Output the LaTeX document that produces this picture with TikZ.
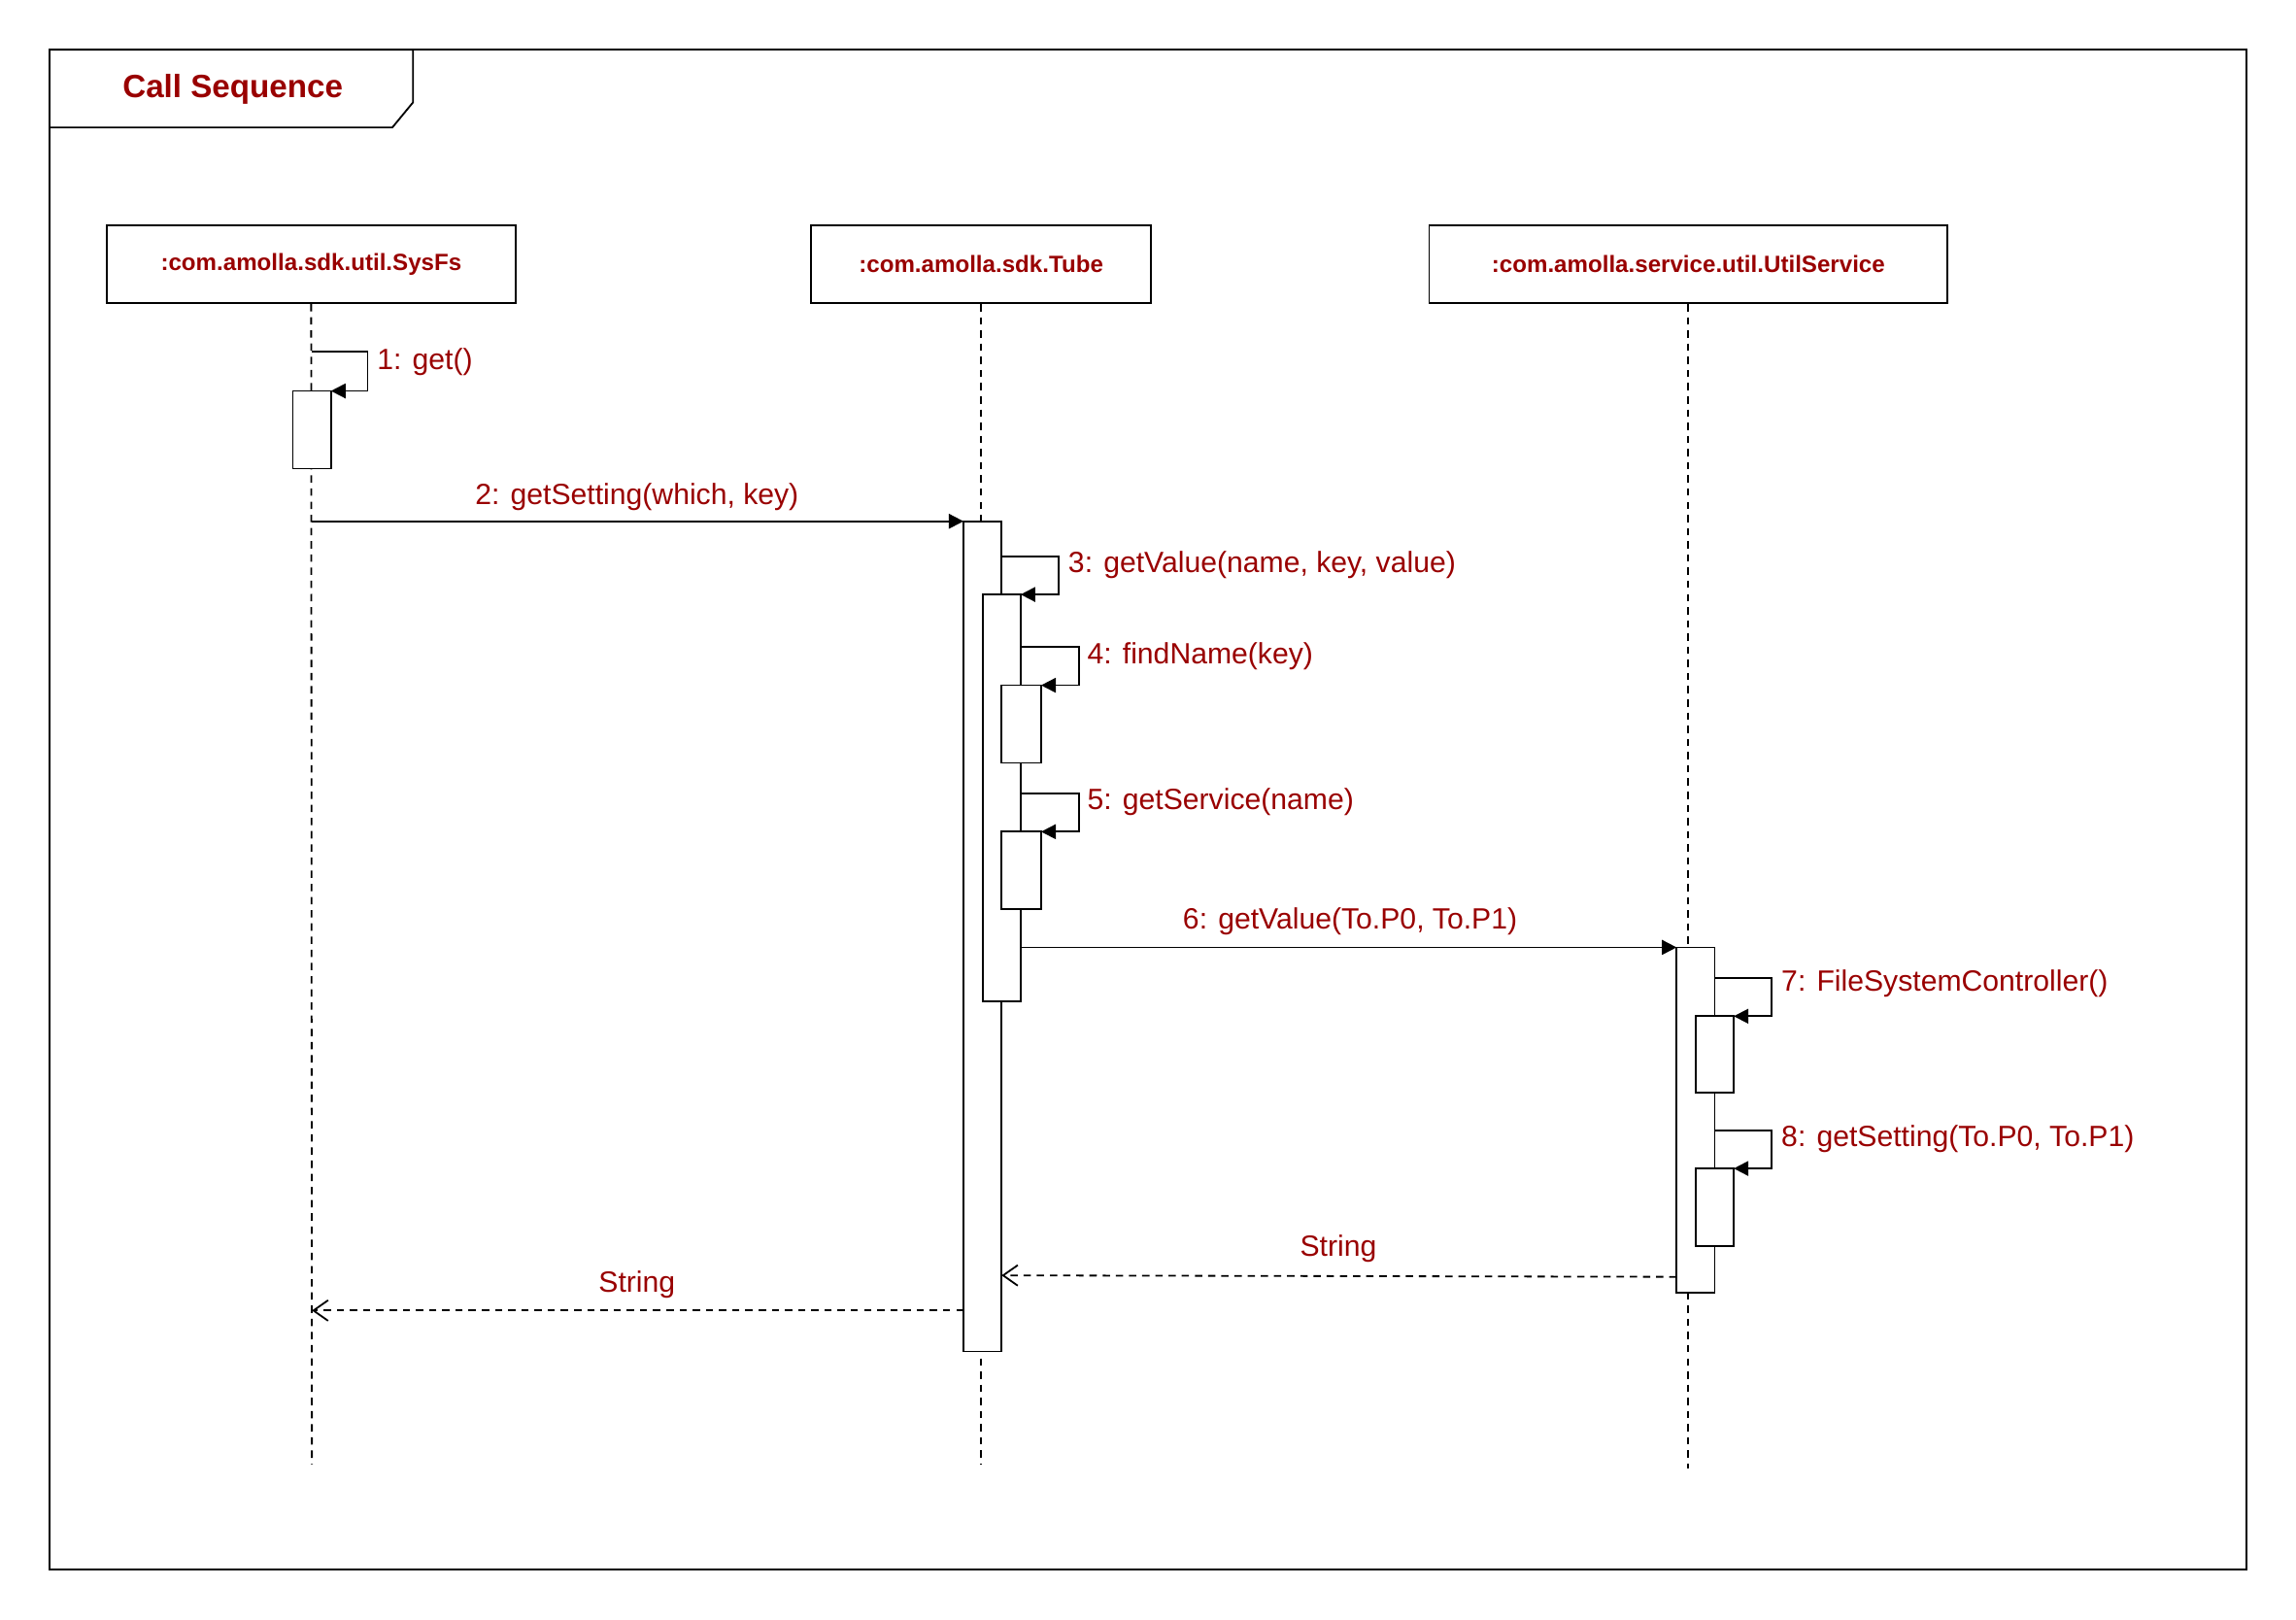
\documentclass[tikz,border=0pt]{standalone}
\usepackage{fontspec}
\setmainfont{Liberation Sans}
\usetikzlibrary{arrows.meta}
\definecolor{dred}{HTML}{990000}
\begin{document}
\begin{tikzpicture}[x=0.5pt,y=-0.5pt,line width=0.6pt,
 head/.style={draw,fill=white,minimum width=0,inner sep=0,font=\fontsize{8}{9}\selectfont\bfseries,text=dred},
 act/.style={draw,fill=white},
 life/.style={dashed,dash pattern=on 2.5pt off 2pt},
 call/.style={-{Triangle[length=5pt,width=5pt]}},
 ret/.style={dashed,dash pattern=on 2.5pt off 2pt,-{Straight Barb[length=5pt,width=7pt]}},
 lbl/.style={font=\fontsize{10}{12}\selectfont,text=dred,inner sep=1pt}]
\useasboundingbox (0,0) rectangle (1568,1106);
\draw (34,34) rectangle (1534,1072);
\draw (34,34) -- (282,34) -- (282,70) -- (268,87) -- (34,87);
\node[font=\fontsize{11}{13}\selectfont\bfseries,text=dred] (title) at (159,61) {Call Sequence};
% lifelines
\node[head,minimum width=139.5pt,minimum height=26.5pt] (L1) at (212.5,180.5) {:com.amolla.sdk.util.SysFs};
\node[head,minimum width=116pt,minimum height=26.5pt] (L2) at (670,180.5) {:com.amolla.sdk.Tube};
\node[head,minimum width=177pt,minimum height=26.5pt] (L3) at (1153,180.5) {:com.amolla.service.util.UtilService};
\coordinate (E1) at (213,1000); \coordinate (E2) at (670,1000); \coordinate (E3) at (1153,1003);
\draw[life] (L1.south) -- (E1);
\draw[life] (L2.south) -- (E2);
\draw[life] (L3.south) -- (E3);
% activations
\draw[act] (200,267) rectangle (226,320);
\draw[act] (658,356) rectangle (684,923);
\draw[act] (671,406) rectangle (697,684);
\draw[act] (684,468) rectangle (711,521);
\draw[act] (684,568) rectangle (711,621);
\draw[act] (1145,647) rectangle (1171,883);
\draw[act] (1158,694) rectangle (1184,746);
\draw[act] (1158,798) rectangle (1184,851);
% messages
\draw[call] (213,240) -- (251,240) -- (251,267) -- (226,267);
\node[lbl,anchor=west] (m1) at (255,247) {1: get()};
\draw[call] (213,356) -- (658,356);
\node[lbl,anchor=south] (m2) at (435,351) {2: getSetting(which, key)};
\draw[call] (684,380) -- (723,380) -- (723,406) -- (697,406);
\node[lbl,anchor=west] (m3) at (727,386) {3: getValue(name, key, value)};
\draw[call] (697,442) -- (737,442) -- (737,468) -- (711,468);
\node[lbl,anchor=west] (m4) at (740,448) {4: findName(key)};
\draw[call] (697,542) -- (737,542) -- (737,568) -- (711,568);
\node[lbl,anchor=west] (m5) at (740,548) {5: getService(name)};
\draw[call] (697,647) -- (1145,647);
\node[lbl,anchor=south] (m6) at (922,641) {6: getValue(To.P0, To.P1)};
\draw[call] (1171,668) -- (1210,668) -- (1210,694) -- (1184,694);
\node[lbl,anchor=west] (m7) at (1214,672) {7: FileSystemController()};
\draw[call] (1171,772) -- (1210,772) -- (1210,798) -- (1184,798);
\node[lbl,anchor=west] (m8) at (1214,778) {8: getSetting(To.P0, To.P1)};
\draw[ret] (1145,872) -- (684,871);
\node[lbl] (r1) at (914,853) {String};
\draw[ret] (658,895) -- (213,895);
\node[lbl] (r2) at (435,877) {String};
\end{tikzpicture}
\end{document}
